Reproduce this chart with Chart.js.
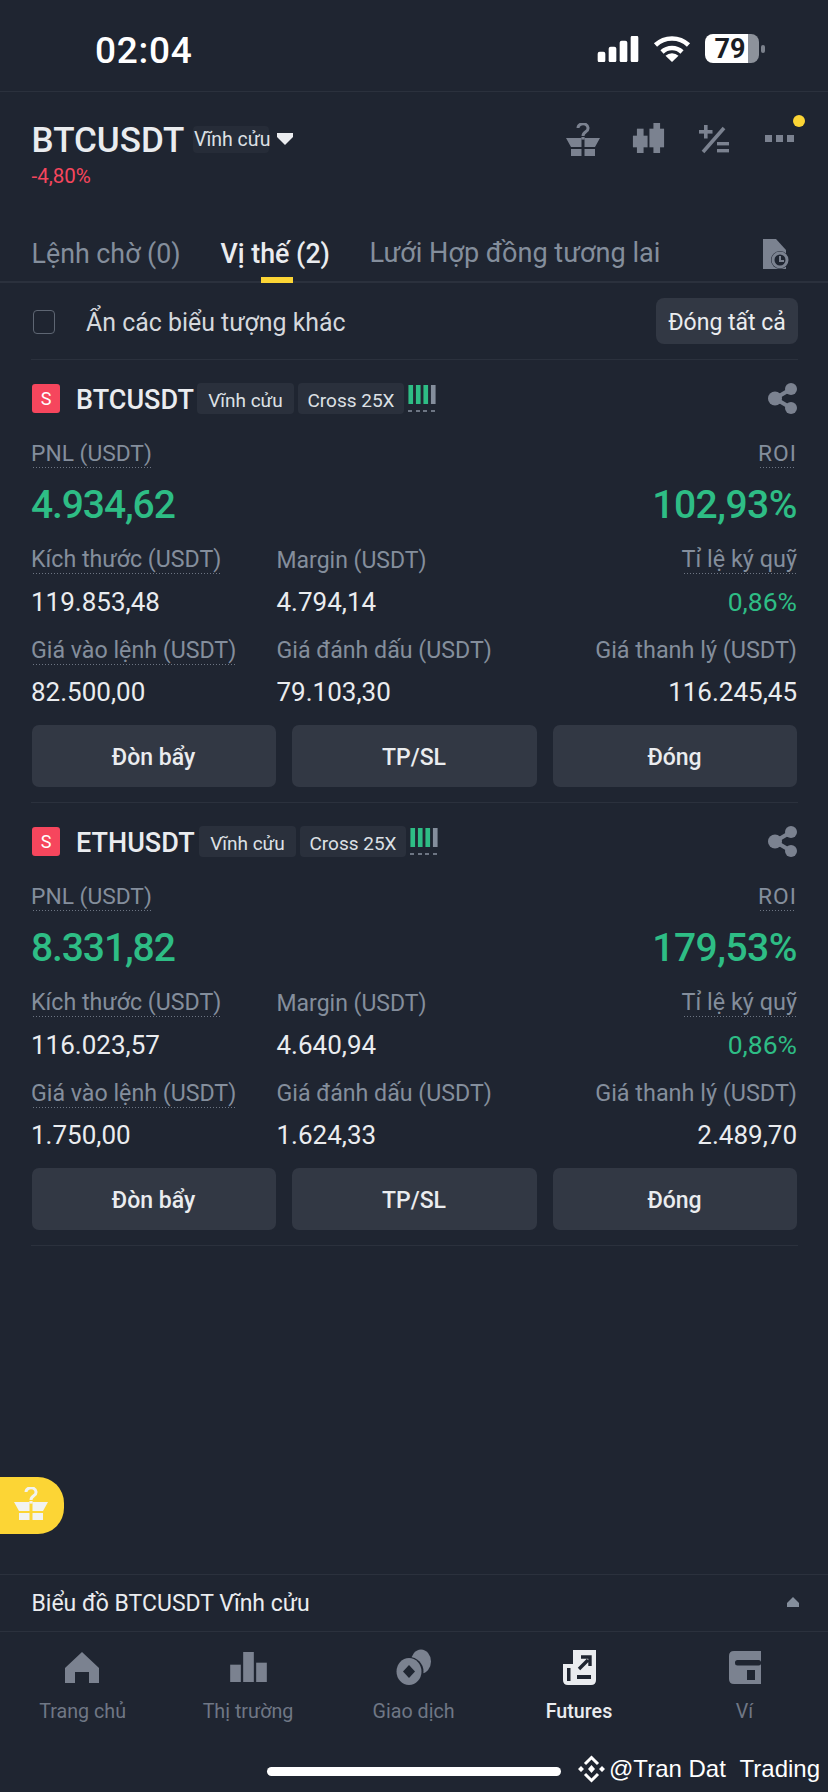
<!DOCTYPE html>
<html lang="vi">
<head>
<meta charset="utf-8">
<title>BTCUSDT Vị thế</title>
<script src="https://cdn.jsdelivr.net/npm/chart.js@4"></script>
<style>
  html, body { margin: 0; padding: 0; background: #1f2531; }
  #app { position: relative; width: 828px; height: 1792px; overflow: hidden; background: #1f2531; font-family: Roboto, sans-serif; }
  #app > * { position: absolute; }
  .t { white-space: nowrap; line-height: 1; }
  canvas { display: block; }
</style>
</head>
<body>
<div id="app"></div>
<script>
const symbols = ["BTCUSDT", "ETHUSDT"];
const contractType = "Vĩnh cửu";
const marginMode = "Cross 25X";
const pnl = ["4.934,62", "8.331,82"];
const roi = ["102,93%", "179,53%"];
const sizes = ["119.853,48", "116.023,57"];
const margins = ["4.794,14", "4.640,94"];
const marginRatios = ["0,86%", "0,86%"];
const entryPrices = ["82.500,00", "1.750,00"];
const markPrices = ["79.103,30", "1.624,33"];
const liqPrices = ["116.245,45", "2.489,70"];

const riskLevels = [1, 1, 1, 1];
const riskFilled = 3;
const signalLevels = [10, 15, 21, 26];
const marketBars = [17, 30, 19];
const candleBodies = [[6, 17], [6, 24]];
const candleWicks = [[0, 24], [0, 30]];

const tabs = ["Lệnh chờ (0)", "Vị thế (2)", "Lưới Hợp đồng tương lai"];
const navLabels = ["Trang chủ", "Thị trường", "Giao dịch", "Futures", "Ví"];
const actions = ["Đòn bẩy", "TP/SL", "Đóng"];

const GREEN = "#2ebd85", RED = "#f6465d", GREY = "#848e9c", LIGHT = "#eaecef";
const PANEL = "#323844", CHIP = "#2a303c", LINE = "#2b313d", YELLOW = "#fcd535", ICON = "#7b8290", BG = "#1f2531";

const app = document.getElementById("app");

function rect(x, y, w, h, color, radius) {
  const d = document.createElement("div");
  d.style.cssText = `left:${x}px;top:${y}px;width:${w}px;height:${h}px;background:${color};border-radius:${radius || 0}px`;
  app.appendChild(d);
  return d;
}

// x is the left edge, or the right edge / centre when align says so; y is the text centre
function txt(x, y, str, size, color, opts) {
  const o = opts || {};
  const d = document.createElement("div");
  d.className = "t";
  d.textContent = str;
  let tx = "0";
  if (o.align === "right") tx = "-100%";
  if (o.align === "center") tx = "-50%";
  d.style.cssText = `left:${x}px;top:${y}px;font-size:${size}px;color:${color};font-weight:${o.weight || 400};` +
    `letter-spacing:${o.spacing || 0}px;font-family:${o.font || "Roboto, sans-serif"};transform:translate(${tx},-50%)`;
  app.appendChild(d);
  return d;
}

function dotted(el, y) {
  const r = el.getBoundingClientRect();
  const d = rect(r.left + 2, y, r.width - 3, 1.5, "transparent");
  d.style.background = "repeating-linear-gradient(90deg,#6d7583 0 1.5px,transparent 1.5px 3px)";
}

function svg(x, y, w, h, inner) {
  const wrap = document.createElement("div");
  wrap.style.cssText = `left:${x}px;top:${y}px;width:${w}px;height:${h}px`;
  wrap.innerHTML = `<svg width="${w}" height="${h}" viewBox="0 0 ${w} ${h}" xmlns="http://www.w3.org/2000/svg" style="display:block">${inner}</svg>`;
  app.appendChild(wrap);
}

function barChart(x, y, w, h, labels, datasets, maxY) {
  const c = document.createElement("canvas");
  c.width = w;
  c.height = h;
  c.style.cssText = `left:${x}px;top:${y}px;width:${w}px;height:${h}px`;
  app.appendChild(c);
  return new Chart(c.getContext("2d"), {
    type: "bar",
    data: { labels: labels, datasets: datasets },
    options: {
      responsive: false,
      animation: false,
      events: [],
      layout: { padding: 0 },
      plugins: { legend: { display: false }, tooltip: { enabled: false } },
      scales: {
        x: { display: false },
        y: { display: false, min: 0, max: maxY }
      }
    }
  });
}

function giftIcon(x, y, color) {
  svg(x, y, 34, 33, `
    <path d="M12 5a5 4.4 0 1 1 8 3.6c-2 1.4-3 2-3 4.4" fill="none" stroke="${color}" stroke-width="3"/>
    <rect x="15.4" y="14" width="3.2" height="2.6" fill="${color}"/>
    <path d="M0 15H15.5V24H5ZM18.5 15H34L29 24H18.5Z" fill="${color}"/>
    <rect x="5" y="26" width="10.5" height="7" fill="${color}"/><rect x="18.5" y="26" width="10.5" height="7" fill="${color}"/>`);
}

// status bar
txt(95, 50, "02:04", 37, "#ffffff", { weight: 500, spacing: 0.7 });
barChart(596, 36, 44, 26, ["1", "2", "3", "4"], [{
  data: signalLevels, backgroundColor: "#ffffff", barThickness: 7, borderRadius: 2, borderSkipped: false
}], 26);
svg(653, 35, 38, 28, `
  <path d="M2.5 10A24 24 0 0 1 35.5 10" fill="none" stroke="#fff" stroke-width="4.6"/>
  <path d="M9 17A14.5 14.5 0 0 1 29 17" fill="none" stroke="#fff" stroke-width="4.6"/>
  <path d="M19 27L12.5 20.8A9.5 9.5 0 0 1 25.5 20.8Z" fill="#fff"/>`);
const batt = rect(705, 34, 54, 29, "#ffffff", 8);
batt.style.background = "linear-gradient(90deg,#ffffff 0 43px,#8d929b 43px)";
rect(761, 45, 4, 8, "#7b818c", 2);
txt(730, 49, "79", 27, "#1a1d24", { align: "center", weight: 700 });
rect(0, 90.5, 828, 1.5, LINE);

// header
txt(31.5, 140, "BTCUSDT", 35, LIGHT, { weight: 500 });
rect(193, 126, 76, 27, "#262c38", 4);
txt(194, 140, contractType, 19.5, "#dde0e5");
svg(277, 133, 16, 12, `<path d="M0 0H16V4L8 12L0 4Z" fill="${LIGHT}"/>`);
txt(31.5, 175.5, "-4,80%", 20.5, RED);

giftIcon(566, 123, ICON);
barChart(632, 123, 33, 30, ["a", "b"], [
  { data: candleBodies, backgroundColor: ICON, barThickness: 14, grouped: false, borderSkipped: false },
  { data: candleWicks, backgroundColor: ICON, barThickness: 6, grouped: false, borderSkipped: false }
], 30);
svg(699, 125, 31, 29, `
  <rect x="0" y="5" width="13.5" height="3.6" fill="${ICON}"/><rect x="5" y="0" width="3.6" height="13.5" fill="${ICON}"/>
  <path d="M25 3L4 27" stroke="${ICON}" stroke-width="3.6"/>
  <rect x="18" y="17" width="12" height="3.4" fill="${ICON}"/><rect x="18" y="24" width="12" height="3.4" fill="${ICON}"/>`);
[765, 776, 787].forEach((x) => rect(x, 135, 6.5, 6.5, ICON));
rect(793, 115, 12, 12, YELLOW, 6);

// tabs
txt(31.5, 254, tabs[0], 26.8, GREY);
txt(220.5, 254, tabs[1], 26.8, LIGHT, { weight: 500 });
txt(369.5, 254, tabs[2], 27.1, GREY);
rect(0, 281, 828, 1.5, LINE);
rect(260.5, 277, 32, 5.5, YELLOW);
svg(763, 239, 26, 30, `
  <path d="M0 0H13L23 11V30H0Z" fill="${ICON}"/>
  <circle cx="17" cy="21" r="9" fill="${BG}"/>
  <circle cx="17" cy="21" r="7" fill="none" stroke="${ICON}" stroke-width="3"/>
  <path d="M17 17V22H21" fill="none" stroke="${ICON}" stroke-width="2"/>`);

// hide-other-symbols row
const check = rect(32.5, 310, 20.5, 21.5, "transparent", 4);
check.style.border = "1px solid #5e6673";
txt(86, 323, "Ẩn các biểu tượng khác", 24.9, "#d5d8dd");
rect(656, 298, 141.5, 46, PANEL, 8);
txt(727, 322, "Đóng tất cả", 23, LIGHT, { align: "center" });
rect(31, 358.5, 767, 1.5, LINE);

// one position card per symbol
symbols.forEach((symbol, i) => {
  const dy = i * 443;
  const s = i * 2;
  rect(31.5, 384 + dy, 28.5, 29, RED, 3);
  txt(46, 399 + dy, "S", 18, "#ffffff", { align: "center" });
  txt(76, 400 + dy, symbol, 27, LIGHT, { weight: 500 });
  rect(197 + s, 383 + dy, 97, 31, CHIP, 4);
  txt(245.5 + s, 400 + dy, contractType, 19, "#dde0e5", { align: "center" });
  rect(298 + s, 383 + dy, 106, 31, CHIP, 4);
  txt(351 + s, 400 + dy, marginMode, 19, "#dde0e5", { align: "center" });

  barChart(406.5 + s, 385 + dy, 30, 19, ["1", "2", "3", "4"], [{
    data: riskLevels,
    backgroundColor: riskLevels.map((v, k) => (k < riskFilled ? GREEN : GREY)),
    barThickness: 4
  }], 1);
  [408, 415.5, 423, 431].forEach((x) => rect(x + s, 410 + dy, 4, 1.5, "#6d7583"));

  svg(768, 383 + dy, 30, 31, `
    <path d="M23 6L7 15.5L23 25" fill="none" stroke="${ICON}" stroke-width="4"/>
    <circle cx="23" cy="6" r="6" fill="${ICON}"/><circle cx="7" cy="15.5" r="7" fill="${ICON}"/><circle cx="23" cy="25" r="6" fill="${ICON}"/>`);

  dotted(txt(31, 454 + dy, "PNL (USDT)", 22.8, GREY), 466.5 + dy);
  dotted(txt(797, 454 + dy, "ROI", 22.8, GREY, { align: "right", spacing: 1 }), 466.5 + dy);
  txt(31, 505 + dy, pnl[i], 39, GREEN, { weight: 500, spacing: -1.1 });
  txt(797, 505 + dy, roi[i], 39, GREEN, { weight: 500, align: "right", spacing: -0.5 });

  dotted(txt(31, 560 + dy, "Kích thước (USDT)", 23.2, GREY), 572.5 + dy);
  txt(276.5, 560 + dy, "Margin (USDT)", 23, GREY);
  dotted(txt(797, 560 + dy, "Tỉ lệ ký quỹ", 23.4, GREY, { align: "right" }), 572.5 + dy);
  txt(31, 602 + dy, sizes[i], 26, LIGHT);
  txt(276.5, 602 + dy, margins[i], 26, LIGHT);
  txt(797, 602 + dy, marginRatios[i], 26.5, GREEN, { align: "right" });

  dotted(txt(31, 651 + dy, "Giá vào lệnh (USDT)", 23.2, GREY), 663.5 + dy);
  txt(276.5, 651 + dy, "Giá đánh dấu (USDT)", 23.2, GREY);
  txt(797, 651 + dy, "Giá thanh lý (USDT)", 23.4, GREY, { align: "right" });
  txt(31, 692 + dy, entryPrices[i], 26, LIGHT);
  txt(276.5, 692 + dy, markPrices[i], 26, LIGHT);
  txt(797, 692 + dy, liqPrices[i], 26, LIGHT, { align: "right" });

  [31.5, 292, 552.5].forEach((x, k) => {
    rect(x, 725 + dy, 244.5, 62, PANEL, 7);
    txt(x + 122, 757 + dy, actions[k], 23, LIGHT, { align: "center", weight: 500 });
  });
  rect(31, 801.5 + dy, 767, 1.5, LINE);
});

// floating gift button
const pill = rect(0, 1477, 64, 57, YELLOW);
pill.style.borderRadius = "0 26px 26px 0";
giftIcon(14, 1487, "#f2f3f1");

// chart drawer row
rect(0, 1573.5, 828, 1.5, LINE);
txt(31.5, 1603, "Biểu đồ BTCUSDT Vĩnh cửu", 23, LIGHT);
svg(787, 1597, 12, 10, `<path d="M6 0L12 6V10H0V6Z" fill="${GREY}"/>`);
rect(0, 1630.5, 828, 1.5, LINE);

// bottom navigation
svg(65, 1652, 34, 31, `<path fill-rule="evenodd" d="M17 0L34 16V31H24V20H10V31H0V16Z" fill="${ICON}"/>`);
barChart(229, 1652, 39, 30, ["a", "b", "c"], [{
  data: marketBars, backgroundColor: ICON, barThickness: 10
}], 30);
svg(396, 1649, 36, 36, `
  <ellipse cx="25" cy="12.5" rx="10" ry="12" fill="${ICON}"/>
  <circle cx="13" cy="22.5" r="14.5" fill="${BG}"/>
  <ellipse cx="13" cy="22.5" rx="12.5" ry="13.5" fill="${ICON}"/>
  <path d="M13 16L19 22.5L13 29L7 22.5Z" fill="${BG}"/>`);
svg(563, 1650, 34, 35, `
  <path d="M10 0H33V30Q33 35 28 35H5Q0 35 0 30V14H10Z" fill="${LIGHT}"/>
  <rect x="4" y="18" width="3.5" height="13" fill="${BG}"/>
  <rect x="14" y="25" width="14" height="4" fill="${BG}"/>
  <path d="M16 19L25 10M18 7H27V16" fill="none" stroke="${BG}" stroke-width="3.4"/>`);
svg(729, 1651, 32, 33, `
  <path d="M5 0H32V33H5Q0 33 0 28V5Q0 0 5 0Z" fill="${ICON}"/>
  <rect x="6" y="9" width="26" height="5.5" rx="2.5" fill="${BG}"/>
  <rect x="18" y="19" width="8" height="10" fill="${BG}"/>`);
[82.6, 248, 413.6, 579, 744.5].forEach((x, k) => {
  const active = navLabels[k] === "Futures";
  txt(x, 1712, navLabels[k], 19.7, active ? LIGHT : "#6f7785", { align: "center", weight: active ? 500 : 400 });
});

// home bar and watermark
rect(267, 1767, 294, 9, "#ffffff", 4.5);
svg(578, 1755, 27, 28, `
  <path d="M13.5 10L17 14L13.5 18L10 14Z" fill="#fff"/>
  <path d="M3 11L6 14L3 17L0 14ZM24 11L27 14L24 17L21 14Z" fill="#fff"/>
  <path d="M7 9L13.5 2.5L20 9" fill="none" stroke="#fff" stroke-width="3"/>
  <path d="M7 19L13.5 25.5L20 19" fill="none" stroke="#fff" stroke-width="3"/>`);
txt(609, 1769, "@Tran Dat", 24, "#ffffff", { font: "'Liberation Sans', sans-serif" });
txt(820, 1769, "Trading", 24, "#ffffff", { font: "'Liberation Sans', sans-serif", align: "right" });
</script>
</body>
</html>
